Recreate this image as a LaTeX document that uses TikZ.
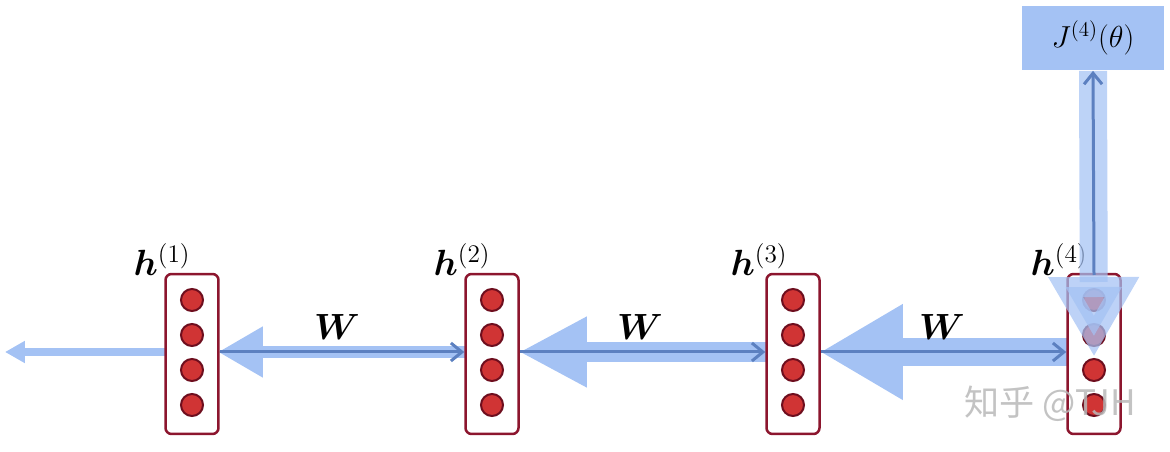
\documentclass[tikz,border=0pt]{standalone}
\usepackage{amsmath,bm}
\usepackage{fontspec}
\newfontfamily\cjk{Noto Sans CJK SC}
\usetikzlibrary{arrows.meta}
\definecolor{lblue}{RGB}{164,194,244}
\definecolor{dblue}{RGB}{92,128,192}
\definecolor{boxred}{RGB}{140,22,46}
\definecolor{dotred}{RGB}{208,52,52}
\definecolor{dotedge}{RGB}{110,14,30}
\tikzset{
  layer/.style={draw=boxred, line width=0.05cm, fill=white, rounded corners=0.12cm,
    minimum width=1.06cm, minimum height=3.2cm, inner sep=0pt},
  unit/.style={circle, fill=dotred, draw=dotedge, line width=0.04cm, minimum size=0.44cm, inner sep=0pt},
  grad/.style={draw=lblue},
  fwd/.style={draw=dblue, line width=0.06cm, -{Straight Barb[length=0.22cm,width=0.36cm]}},
  lab/.style={font=\fontsize{20}{24}\selectfont},
}
\begin{document}
\begin{tikzpicture}[x=0.02cm,y=-0.02cm]
\useasboundingbox (0,0) rectangle (1170,452);
% gradient arrows (behind the layers)
\coordinate (left) at (5,352);
\foreach \i/\x in {1/192,2/492,3/793,4/1094}
  \coordinate (c\i) at (\x,352);
\draw[grad, line width=0.16cm, -{Triangle[length=0.4cm,width=0.42cm]}] (c1) -- (left);
\draw[grad, line width=0.24cm, -{Triangle[length=0.9cm,width=0.96cm]}] (465,352) -- (218,352);
\draw[grad, line width=0.40cm, -{Triangle[length=1.36cm,width=1.32cm]}] (766,352) -- (519,352);
\draw[grad, line width=0.56cm, -{Triangle[length=1.66cm,width=1.8cm]}] (1067,352) -- (820,352);
% layers
\foreach \i/\x in {1/192,2/492,3/793,4/1094}{
  \node[layer] (h\i) at (\x,354) {};
  \foreach \j/\y in {1/300,2/335,3/370,4/405}
    \node[unit] (u\i\j) at (\x,\y) {};
}
\node[lab, anchor=south] (l1) at (162,282) {$\bm{h}^{(1)}$};
\node[lab, anchor=south] (l2) at (462,282) {$\bm{h}^{(2)}$};
\node[lab, anchor=south] (l3) at (759,282) {$\bm{h}^{(3)}$};
\node[lab, anchor=south] (l4) at (1059,282) {$\bm{h}^{(4)}$};
\node[lab] (w1) at (337,327) {$\bm{W}$};
\node[lab] (w2) at (640,327) {$\bm{W}$};
\node[lab] (w3) at (942,327) {$\bm{W}$};
% loss
\node[fill=lblue, minimum width=2.86cm, minimum height=1.3cm, inner sep=0pt,
  font=\fontsize{18}{22}\selectfont] (J) at (1093,38) {$J^{(4)}(\theta)$};
\coordinate (tip) at (1094,357);
\draw[grad, opacity=0.72, line width=0.56cm, -{Triangle[length=1.6cm,width=1.7cm]}] (J.south) -- (tip);
% forward arrows
\draw[fwd] (h1.east |- c1) -- (h2.west |- c2);
\draw[fwd] (h2.east |- c2) -- (h3.west |- c3);
\draw[fwd] (h3.east |- c3) -- (h4.west |- c4);
\draw[fwd] (1094,275) -- (J.south);
% watermark
\node[text=gray!55, font=\fontsize{20}{24}\selectfont\cjk, opacity=0.85] (wm) at (1050,404) {知乎 @TJH};
\end{tikzpicture}
\end{document}
